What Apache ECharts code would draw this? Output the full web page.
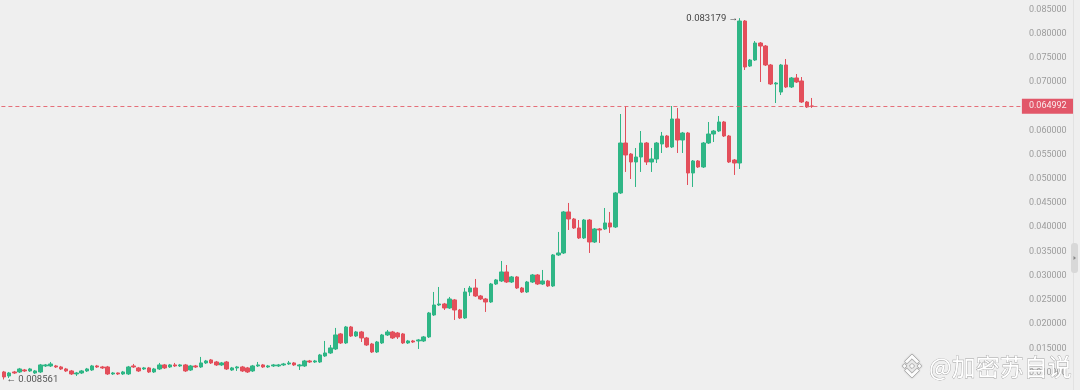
<!DOCTYPE html>
<html>
<head>
<meta charset="utf-8">
<script src="https://cdn.jsdelivr.net/npm/echarts@6/dist/echarts.min.js"></script>
<style>
html,body{margin:0;padding:0;background:#efefef;}
#chart{width:1080px;height:390px;}
</style>
</head>
<body>
<div id="chart"></div>
<script>
// [open, close, low, high]
const ohlc = [
[0.01011,0.00908,0.008561,0.01032],[0.00928,0.00990,0.00887,0.01011],[0.01011,0.00990,0.00970,0.01032],[0.01011,0.01073,0.00990,0.01094],
[0.01052,0.01032,0.01011,0.01073],[0.01032,0.01073,0.01011,0.01094],[0.00990,0.01032,0.00970,0.01052],[0.01011,0.01156,0.00990,0.01176],
[0.01135,0.01156,0.01114,0.01176],[0.01135,0.01176,0.01114,0.01217],[0.01135,0.01114,0.01094,0.01156],[0.01114,0.01073,0.01052,0.01135],
[0.01073,0.01032,0.01011,0.01094],[0.01032,0.00970,0.00949,0.01052],[0.00970,0.00990,0.00928,0.01011],[0.00990,0.01032,0.00970,0.01052],
[0.01032,0.01073,0.01011,0.01094],[0.01052,0.01135,0.01032,0.01156],[0.01135,0.01114,0.01094,0.01156],[0.01114,0.01094,0.01073,0.01135],
[0.01114,0.00970,0.00949,0.01135],[0.00970,0.00990,0.00949,0.01011],[0.00990,0.00970,0.00949,0.01000],[0.00970,0.01011,0.00949,0.01032],
[0.00970,0.01114,0.00949,0.01135],[0.01135,0.01114,0.01094,0.01176],[0.01094,0.01032,0.01011,0.01114],[0.01073,0.01094,0.01052,0.01114],
[0.01094,0.01011,0.00990,0.01114],[0.01011,0.01073,0.00990,0.01094],[0.01073,0.01156,0.01052,0.01197],[0.01156,0.01094,0.01073,0.01176],
[0.01114,0.01156,0.01094,0.01176],[0.01156,0.01135,0.01114,0.01197],[0.01135,0.01156,0.01114,0.01176],[0.01156,0.01032,0.01011,0.01176],
[0.01052,0.01135,0.01032,0.01156],[0.01135,0.01114,0.01094,0.01156],[0.01114,0.01197,0.01094,0.01321],[0.01197,0.01238,0.01176,0.01259],
[0.01259,0.01197,0.01176,0.01279],[0.01217,0.01156,0.01135,0.01238],[0.01156,0.01197,0.01135,0.01217],[0.01217,0.01073,0.01052,0.01238],
[0.01052,0.01094,0.01032,0.01114],[0.01094,0.01114,0.01032,0.01135],[0.01114,0.01032,0.01011,0.01135],[0.01094,0.01011,0.00990,0.01114],
[0.01032,0.01135,0.01011,0.01156],[0.01135,0.01156,0.01114,0.01217],[0.01156,0.01114,0.01094,0.01176],[0.01114,0.01135,0.01094,0.01156],
[0.01135,0.01156,0.01114,0.01176],[0.01135,0.01156,0.01114,0.01176],[0.01156,0.01176,0.01135,0.01197],[0.01176,0.01197,0.01156,0.01238],
[0.01197,0.01156,0.01135,0.01217],[0.01135,0.01156,0.01052,0.01176],[0.01135,0.01238,0.01114,0.01259],[0.01238,0.01217,0.01197,0.01259],
[0.01217,0.01238,0.01197,0.01259],[0.01217,0.01362,0.01197,0.01383],[0.01341,0.01403,0.01321,0.01651],[0.01403,0.01507,0.01383,0.01568],
[0.01486,0.01775,0.01465,0.01920],[0.01796,0.01610,0.01589,0.01816],[0.01610,0.01940,0.01589,0.01961],[0.01940,0.01754,0.01734,0.01961],
[0.01754,0.01837,0.01734,0.01858],[0.01837,0.01713,0.01630,0.01858],[0.01713,0.01568,0.01548,0.01734],[0.01589,0.01424,0.01403,0.01610],
[0.01424,0.01630,0.01403,0.01651],[0.01610,0.01775,0.01589,0.01796],[0.01775,0.01837,0.01754,0.01878],[0.01837,0.01713,0.01692,0.01858],
[0.01816,0.01734,0.01692,0.01837],[0.01796,0.01610,0.01589,0.01816],[0.01610,0.01651,0.01589,0.01672],[0.01651,0.01630,0.01610,0.01672],
[0.01651,0.01672,0.01486,0.01692],[0.01651,0.01734,0.01630,0.01754],[0.01734,0.02229,0.01713,0.02250],[0.02188,0.02394,0.02167,0.02663],
[0.02394,0.02415,0.02374,0.02766],[0.02415,0.02332,0.02291,0.02436],[0.02332,0.02518,0.02312,0.02560],[0.02498,0.02291,0.02085,0.02518],
[0.02291,0.02126,0.02105,0.02312],[0.02126,0.02663,0.02105,0.02745],[0.02663,0.02745,0.02580,0.02787],[0.02745,0.02580,0.02560,0.02931],
[0.02580,0.02518,0.02498,0.02601],[0.02518,0.02456,0.02250,0.02539],[0.02456,0.02828,0.02436,0.02849],[0.02828,0.02911,0.02807,0.02931],
[0.02890,0.03076,0.02869,0.03303],[0.03076,0.02869,0.02849,0.03220],[0.02869,0.02973,0.02849,0.02993],[0.02973,0.02745,0.02725,0.02993],
[0.02745,0.02663,0.02642,0.02766],[0.02663,0.02869,0.02642,0.02890],[0.02869,0.03014,0.02849,0.03034],[0.03014,0.02828,0.02807,0.03034],
[0.02828,0.02890,0.02807,0.03117],[0.02890,0.02787,0.02766,0.02911],[0.02787,0.03427,0.02766,0.03447],[0.03427,0.03468,0.03406,0.03902],
[0.03468,0.04315,0.03447,0.04335],[0.04315,0.04170,0.03943,0.04501],[0.04170,0.03984,0.03964,0.04191],[0.03984,0.03778,0.03757,0.04149],
[0.03778,0.04149,0.03757,0.04170],[0.04149,0.03695,0.03468,0.04170],[0.03695,0.03964,0.03675,0.03984],[0.03964,0.03943,0.03675,0.03984],
[0.03964,0.04088,0.03943,0.04397],[0.04088,0.04005,0.03881,0.04315],[0.04005,0.04707,0.03984,0.04728],[0.04707,0.05739,0.04686,0.06338],
[0.05739,0.05492,0.05141,0.06503],[0.05512,0.05347,0.04996,0.05533],[0.05347,0.05450,0.04831,0.05636],[0.05450,0.05739,0.05141,0.05987],
[0.05739,0.05347,0.05285,0.05760],[0.05347,0.05409,0.05141,0.05636],[0.05409,0.05739,0.05326,0.05760],[0.05719,0.05884,0.05533,0.05967],
[0.05884,0.05657,0.05636,0.05905],[0.05657,0.06235,0.05636,0.06503],[0.06235,0.05801,0.05533,0.06462],[0.05801,0.05946,0.05533,0.05967],
[0.05946,0.05120,0.04872,0.05967],[0.05120,0.05368,0.04831,0.05388],[0.05368,0.05244,0.05223,0.05388],[0.05244,0.05739,0.05223,0.05760],
[0.05739,0.05925,0.05719,0.06173],[0.05925,0.05987,0.05760,0.06008],[0.05987,0.06173,0.05967,0.06297],[0.06173,0.05884,0.05863,0.06194],
[0.05884,0.05347,0.05326,0.05905],[0.05388,0.05326,0.05079,0.05409],[0.05326,0.08258,0.05203,0.083179],[0.08258,0.07309,0.07247,0.08279],
[0.07329,0.07453,0.07309,0.07474],[0.07453,0.07804,0.07433,0.07845],[0.07804,0.07742,0.06999,0.07825],[0.07742,0.07350,0.07329,0.07763],
[0.07350,0.06958,0.06937,0.07371],[0.06958,0.06978,0.06565,0.06999],[0.06792,0.07350,0.06730,0.07371],[0.07350,0.06896,0.06875,0.07474],
[0.06896,0.07082,0.06875,0.07102],[0.07082,0.06999,0.06978,0.07164],[0.07020,0.06586,0.06565,0.07102],[0.06586,0.06483,0.06462,0.06607],
[0.06503,0.064992,0.06464,0.06669]
];
const lastPrice = 0.064992;
const highPoint = { index: 142, value: 0.083179 };
const lowPoint = { index: 0, value: 0.008561 };
const axisMin = 0.005, axisMax = 0.09, axisStep = 0.005;
const slotCount = 197; // candles plus empty space on the right
const days = [];
for (let i = 0; i < slotCount; i++) days.push('D' + (i + 1));

const UP = '#2fb686', DOWN = '#e34f5b';

const chart = echarts.init(document.getElementById('chart'), null, {renderer: 'canvas'});

// Binance-like logo polygons (unit coords)
const U = 12, CX = 912, CY = 366;
function P(pts){ return pts.map(p => [CX + p[0]*U, CY + p[1]*U]); }
const logoStyle = {fill: '#ffffff', stroke: 'rgba(120,120,120,0.55)', lineWidth: 0.8, shadowColor: 'rgba(0,0,0,0.25)', shadowBlur: 2};
const logoShapes = [
  [[0,-0.22],[0.22,0],[0,0.22],[-0.22,0]],
  [[-0.62,-0.2],[-0.42,0],[-0.62,0.2],[-0.82,0]],
  [[0.62,-0.2],[0.82,0],[0.62,0.2],[0.42,0]],
  [[0,-1],[0.62,-0.38],[0.42,-0.18],[0,-0.6],[-0.42,-0.18],[-0.62,-0.38]],
  [[0,1],[0.62,0.38],[0.42,0.18],[0,0.6],[-0.42,0.18],[-0.62,0.38]]
].map(s => ({type: 'polygon', shape: {points: P(s)}, style: logoStyle, z: 100}));

chart.setOption({
  animation: false,
  backgroundColor: '#efefef',
  grid: {left: 1.4, right: 58.1, top: -14.9, bottom: -6.7, outerBoundsMode: 'none', containLabel: false},
  xAxis: {
    type: 'category', data: days, boundaryGap: true,
    axisLine: {show: false}, axisTick: {show: false}, axisLabel: {show: false}, splitLine: {show: false}
  },
  yAxis: {
    type: 'value', position: 'right', min: axisMin, max: axisMax, interval: axisStep, scale: false,
    axisLine: {show: false}, axisTick: {show: false}, splitLine: {show: false},
    axisLabel: {color: '#9c9c9c', fontSize: 9, margin: 7, fontFamily: 'Roboto',
      formatter: v => v.toFixed(6)}
  },
  series: [{
    type: 'candlestick',
    data: ohlc,
    barWidth: 4,
    clip: false,
    itemStyle: {color: UP, color0: DOWN, borderColor: UP, borderColor0: DOWN, borderWidth: 1},
    markPoint: {
      silent: true, animation: false,
      symbol: 'circle', symbolSize: 1, itemStyle: {color: 'rgba(0,0,0,0)'},
      data: [
        {coord: [days[highPoint.index], highPoint.value], value: highPoint.value,
          label: {show: true, position: 'left', distance: 1, color: '#444', fontSize: 9.5, fontFamily: 'Roboto',
            formatter: highPoint.value.toFixed(6) + ' →'}},
        {coord: [days[lowPoint.index], lowPoint.value], value: lowPoint.value,
          label: {show: true, position: 'right', distance: 2, color: '#555', fontSize: 9.5, fontFamily: 'Roboto',
            formatter: '← ' + lowPoint.value.toFixed(6)}}
      ]
    }
  }, {
    type: 'line',
    data: [],
    silent: true,
    markLine: {
      silent: true, symbol: ['none', 'none'], animation: false, precision: 6,
      lineStyle: {color: '#e3606c', type: [4, 3], width: 1, opacity: 0.9},
      label: {show: true, position: 'end', distance: 0, formatter: lastPrice.toFixed(6),
        backgroundColor: '#e0465a', color: '#ffffff', fontSize: 9, fontFamily: 'Roboto', padding: [3, 7, 3, 7]},
      data: [{yAxis: lastPrice}]
    }
  }],
  graphic: [
    {type: 'line', shape: {x1: 1073.5, y1: 0, x2: 1073.5, y2: 390}, style: {stroke: '#e2e2e2', lineWidth: 1}, z: 50},
    {type: 'rect', shape: {x: 1071, y: 243, width: 7, height: 30, r: 3}, style: {fill: '#d8d8d8'}, z: 51},
    {type: 'polygon', shape: {points: [[1073.5, 256], [1076, 258], [1073.5, 260]]}, style: {fill: '#888'}, z: 52},
    ...logoShapes,
    {type: 'text', z: 100, style: {text: '@加密苏自说', x: 929, y: 367, verticalAlign: 'middle',
      font: '24px "Noto Sans CJK SC"', fill: '#ffffff', stroke: 'rgba(110,110,110,0.6)', lineWidth: 0.8,
      shadowColor: 'rgba(0,0,0,0.35)', shadowBlur: 2, shadowOffsetX: 1, shadowOffsetY: 1}}
  ]
});
</script>
</body>
</html>
